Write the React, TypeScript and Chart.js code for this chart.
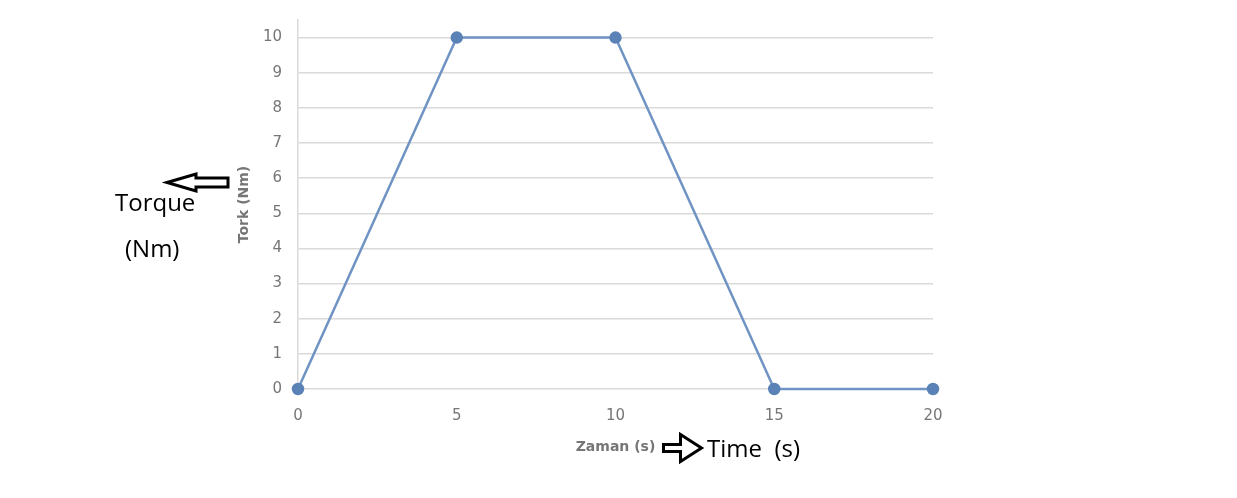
import React, { useEffect, useRef } from "react";
import { Chart, registerables } from "chart.js";

Chart.register(...registerables);

const timeValues = [0, 5, 10, 15, 20];
const torqueValues = [0, 10, 10, 0, 0];
const xTitle = "Zaman (s)";
const yTitle = "Tork (Nm)";

const W = 1237;
const H = 498;

export default function App() {
  const ref = useRef<HTMLCanvasElement | null>(null);

  useEffect(() => {
    if (!ref.current) return;
    const tickColor = "#767676";
    const fam = "'DejaVu Sans', sans-serif";
    const chart = new Chart(ref.current, {
      type: "line",
      data: {
        datasets: [
          {
            data: timeValues.map((x, i) => ({ x, y: torqueValues[i] })),
            borderColor: "#6f93c2",
            backgroundColor: "#5a82b6",
            pointBackgroundColor: "#5a82b6",
            pointBorderColor: "#5a82b6",
            pointRadius: 5,
            borderWidth: 2.5,
            tension: 0,
            clip: false as any,
          },
        ],
      },
      options: {
        animation: false,
        responsive: true,
        maintainAspectRatio: false,
        layout: { padding: { left: 232, right: 304, top: 20, bottom: 38 } },
        plugins: { legend: { display: false }, tooltip: { enabled: false } },
        scales: {
          x: {
            type: "linear",
            min: 0,
            max: 20,
            afterFit: (s: any) => {
              s.height = 71;
              s.paddingLeft = 0;
              s.paddingRight = 0;
            },
            grid: { display: false, drawTicks: false },
            border: { display: false },
            ticks: {
              stepSize: 5,
              color: tickColor,
              padding: 18,
              font: { family: fam, size: 15 },
            },
            title: {
              display: true,
              text: xTitle,
              color: tickColor,
              font: { family: fam, size: 14, weight: "bold" },
            },
          },
          y: {
            type: "linear",
            min: 0,
            max: 10.5,
            afterFit: (s: any) => {
              s.width = 66;
              s.paddingTop = 0;
              s.paddingBottom = 0;
            },
            grid: { color: "#dadada", lineWidth: 1.5, drawTicks: false },
            border: { display: true, color: "#dadada", width: 1.5 },
            ticks: {
              stepSize: 1,
              includeBounds: false,
              color: tickColor,
              padding: 16,
              font: { family: fam, size: 15 },
            },
            title: {
              display: true,
              text: yTitle,
              color: tickColor,
              font: { family: fam, size: 14, weight: "bold" },
            },
          },
        },
      },
    });
    return () => chart.destroy();
  }, []);

  const font = "'Open Sans', 'Noto Sans', sans-serif";
  return (
    <div style={{ position: "absolute", left: 0, top: 0, width: W, height: H, background: "#fff" }}>
      <canvas ref={ref} style={{ width: "100%", height: "100%" }} />
      <svg
        width={W}
        height={H}
        style={{ position: "absolute", left: 0, top: 0, pointerEvents: "none" }}
      >
        <polygon
          points="167,182.5 196,174 196,178 228,178 228,187 196,187 196,191"
          fill="#fff"
          stroke="#000"
          strokeWidth={3}
          strokeLinejoin="miter"
        />
        <polygon
          points="663.5,444.5 680.5,444.5 680.5,434.5 701.5,448 680.5,461.5 680.5,451.5 663.5,451.5"
          fill="#fff"
          stroke="#000"
          strokeWidth={3}
          strokeLinejoin="miter"
        />
        <text x={115} y={211} fontFamily={font} fontSize={24} fill="#000">
          Torque
        </text>
        <text x={125} y={257} fontFamily={font} fontSize={24} fill="#000">
          (Nm)
        </text>
        <text x={707} y={457} fontFamily={font} fontSize={24} fill="#000">
          {"Time\u00a0 (s)"}
        </text>
      </svg>
    </div>
  );
}
